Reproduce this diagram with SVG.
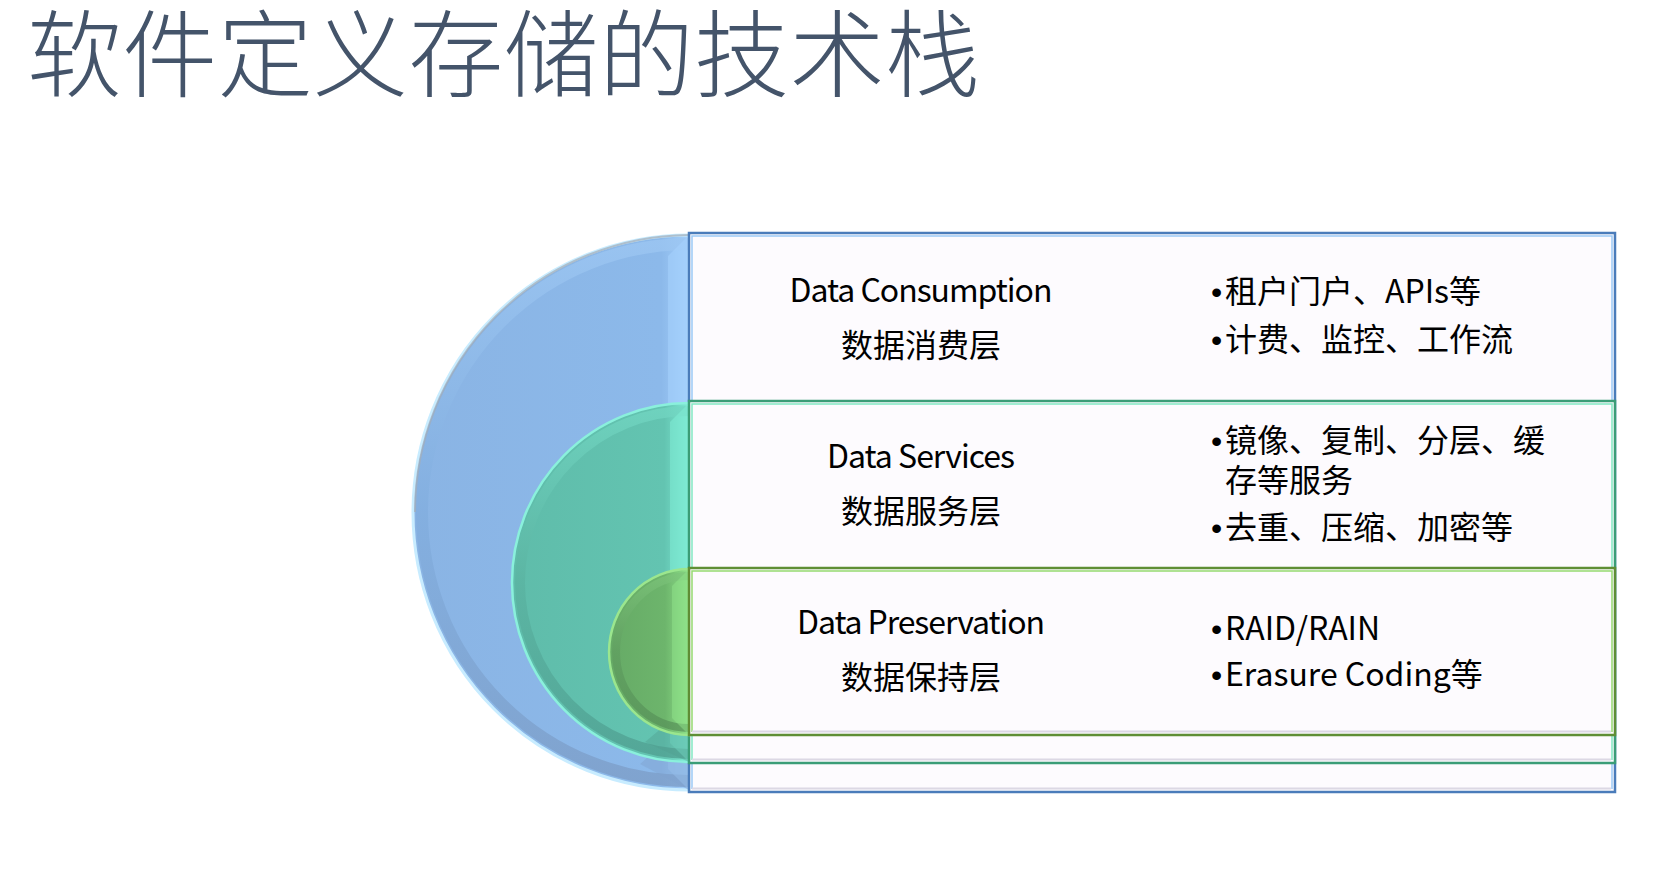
<svg xmlns="http://www.w3.org/2000/svg" width="1680" height="875" viewBox="0 0 1680 875">
<defs>
<style>
.title{font-family:"Noto Sans CJK SC","Noto Sans",sans-serif;font-size:95px;font-weight:300;fill:#44546a}
.t{font-family:"Noto Sans CJK SC","Noto Sans",sans-serif;font-size:32px;fill:#000}
.c{text-anchor:middle}
.b{font-family:"Liberation Sans",sans-serif}
.box{fill:#fdfbfe}
</style>
<linearGradient id="gBlue" x1="0" y1="0" x2="1" y2="0">
<stop offset="0" stop-color="#8ab4e4"/><stop offset="0.9" stop-color="#8cb9ea"/><stop offset="1" stop-color="#a4d0fb"/>
</linearGradient>
<linearGradient id="gTeal" x1="0" y1="0" x2="1" y2="0">
<stop offset="0" stop-color="#5fbcaa"/><stop offset="0.86" stop-color="#63c4b1"/><stop offset="1" stop-color="#7eead4"/>
</linearGradient>
<linearGradient id="gGreen" x1="0" y1="0" x2="1" y2="0">
<stop offset="0" stop-color="#66aa66"/><stop offset="0.7" stop-color="#6db56c"/><stop offset="1" stop-color="#8fe289"/>
</linearGradient>
<linearGradient id="rimBlue" x1="0" y1="0" x2="0" y2="1">
<stop offset="0" stop-color="#9cc6f2"/><stop offset="0.5" stop-color="#82aedf"/><stop offset="1" stop-color="#7d9ec8"/>
</linearGradient>
<linearGradient id="rimTeal" x1="0" y1="0" x2="0" y2="1">
<stop offset="0" stop-color="#72d6c2"/><stop offset="0.5" stop-color="#5ab3a1"/><stop offset="1" stop-color="#4f9e90"/>
</linearGradient>
<linearGradient id="rimGreen" x1="0" y1="0" x2="0" y2="1">
<stop offset="0" stop-color="#7cc47a"/><stop offset="0.5" stop-color="#5f9d5f"/><stop offset="1" stop-color="#558f57"/>
</linearGradient>
</defs>
<rect width="1680" height="875" fill="#ffffff"/>
<text class="title" x="27" y="90" textLength="953">软件定义存储的技术栈</text>

<g id="connectors"></g>

<g id="layer-consumption">
<path d="M689 235 A276 277.5 0 0 0 689 790 Z" fill="url(#gBlue)" stroke="#c8ecff" stroke-width="3"/>
<path d="M689 244 A267 268.5 0 0 0 689 781" fill="none" stroke="url(#rimBlue)" stroke-width="12" opacity="0.8"/>
<path d="M689 235 A276 277.5 0 0 0 415 512" fill="none" stroke="#a3acb8" stroke-width="2" opacity="0.7"/>
<polygon points="689,235 689,790 668,769 668,256" fill="#a6d2fd" opacity="0.55"/>
<polygon points="689,790 689,720 640,764" fill="#7fa2cf" opacity="0.45"/>
<rect class="box" x="689" y="233" width="926" height="559" stroke="#4a7cba" stroke-width="2.5"/>
<polyline points="692,789 692,236 1612,236 1612,789" fill="none" stroke="#9ccaf6" stroke-width="1.5"/>
<line x1="692" y1="788.5" x2="1611" y2="788.5" stroke="#dcd8e4" stroke-width="2"/>
<text class="t c" x="921" y="302" textLength="263">Data Consumption</text>
<text class="t c" x="921" y="357">数据消费层</text>
<text class="t" y="303"><tspan class="b" x="1211">•</tspan><tspan x="1225">租户门户、APIs等</tspan></text>
<text class="t" y="351"><tspan class="b" x="1211">•</tspan><tspan x="1225">计费、监控、工作流</tspan></text>
</g>

<g id="layer-services">
<path d="M689 403 A177 179.5 0 0 0 689 762 Z" fill="url(#gTeal)" stroke="#8af0dc" stroke-width="2.5"/>
<path d="M689 411 A169 171.5 0 0 0 689 754" fill="none" stroke="url(#rimTeal)" stroke-width="10" opacity="0.75"/>
<polygon points="689,403 689,762 670,743 670,422" fill="#80ecd6" opacity="0.55"/>
<polygon points="689,762 689,705 645,742" fill="#4f9d8e" opacity="0.4"/>
<rect class="box" x="689" y="401" width="926" height="362" stroke="#3b9d77" stroke-width="2.5"/>
<polyline points="692,760 692,404 1612,404 1612,760" fill="none" stroke="#82e9c4" stroke-width="1.5"/>
<line x1="692" y1="759.5" x2="1611" y2="759.5" stroke="#dcd8e4" stroke-width="2"/>
<text class="t c" x="921" y="468" textLength="188">Data Services</text>
<text class="t c" x="921" y="523">数据服务层</text>
<text class="t" y="452"><tspan class="b" x="1211">•</tspan><tspan x="1225">镜像、复制、分层、缓</tspan></text>
<text class="t" x="1225" y="492">存等服务</text>
<text class="t" y="539"><tspan class="b" x="1211">•</tspan><tspan x="1225">去重、压缩、加密等</tspan></text>
</g>

<g id="layer-preservation">
<path d="M689 569 A80 83 0 0 0 689 735 Z" fill="url(#gGreen)" stroke="#9be68e" stroke-width="2.5"/>
<path d="M689 576 A73 76 0 0 0 689 728" fill="none" stroke="url(#rimGreen)" stroke-width="8" opacity="0.7"/>
<polygon points="689,569 689,735 672,718 672,586" fill="#90e48a" opacity="0.5"/>
<rect class="box" x="689" y="568" width="926" height="167" stroke="#5f8e35" stroke-width="2.5"/>
<polyline points="692,732 692,571 1612,571 1612,732" fill="none" stroke="#95da70" stroke-width="1.5"/>
<line x1="692" y1="731.5" x2="1611" y2="731.5" stroke="#dcd8e4" stroke-width="2"/>
<text class="t c" x="921" y="634" textLength="248">Data Preservation</text>
<text class="t c" x="921" y="689">数据保持层</text>
<text class="t" y="640"><tspan class="b" x="1211">•</tspan><tspan x="1225">RAID/RAIN</tspan></text>
<text class="t" y="686"><tspan class="b" x="1211">•</tspan><tspan x="1225">Erasure Coding等</tspan></text>
</g>
</svg>
